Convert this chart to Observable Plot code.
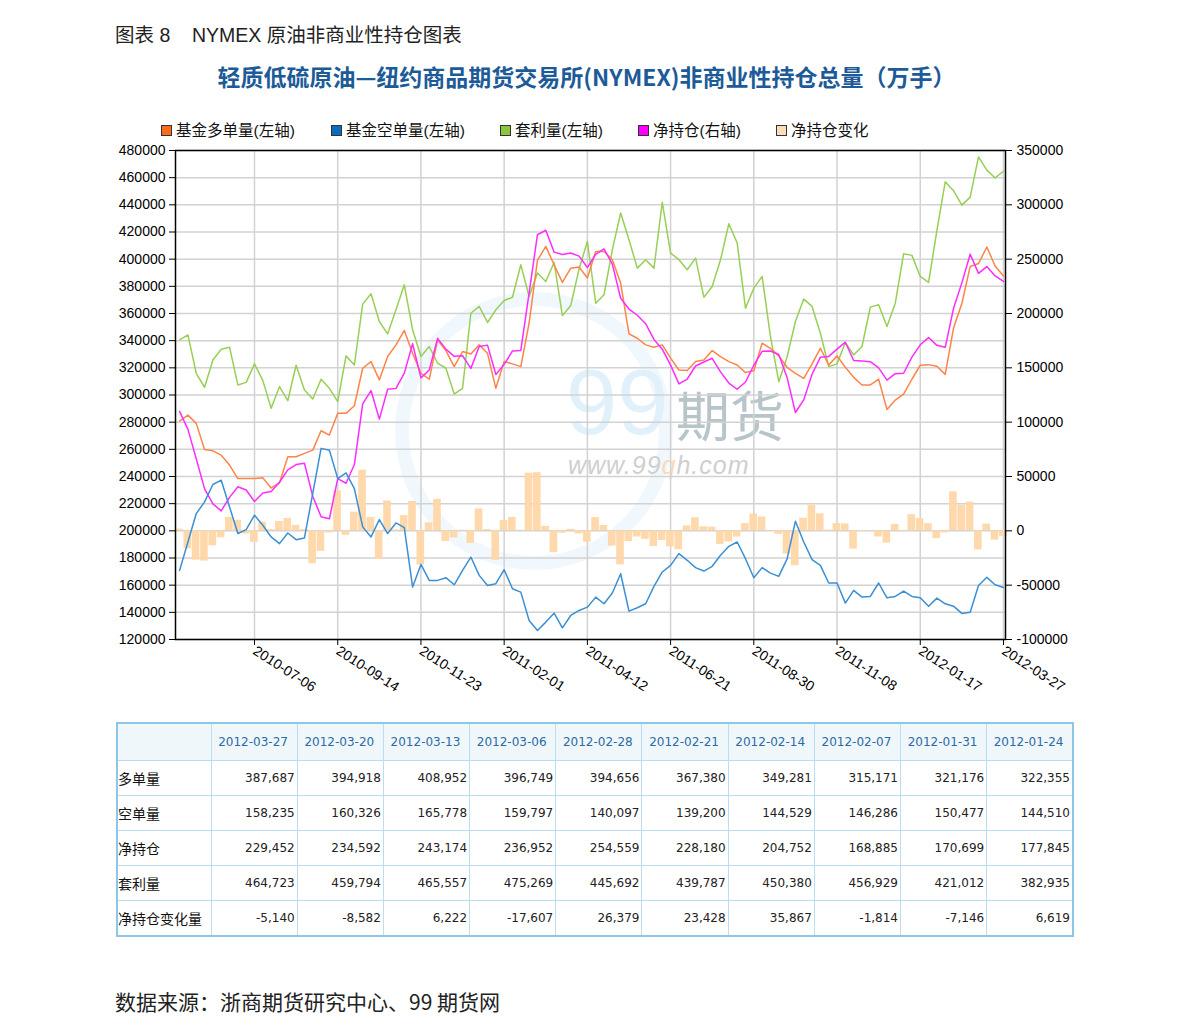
<!DOCTYPE html>
<html><head><meta charset="utf-8">
<script src="https://cdn.jsdelivr.net/npm/d3@7"></script>
<script src="https://cdn.jsdelivr.net/npm/@observablehq/plot@0.6"></script>
<style>
body{margin:0;background:#fff;}
#root{position:relative;width:1191px;height:1033px;overflow:hidden;font-family:"Liberation Sans","Noto Sans CJK SC",sans-serif;color:#000;}
.abs{position:absolute;white-space:nowrap;}
#caption{left:115px;top:23px;font-size:19.5px;line-height:24px;color:#222;font-family:"Liberation Sans","Noto Sans CJK SC",sans-serif;}
#title{left:0;width:1173px;text-align:center;top:61px;font-size:23px;line-height:30px;font-weight:bold;color:#1d5b98;font-family:"Noto Sans CJK SC",sans-serif;}
.leg{top:122px;font-size:15.5px;line-height:18px;font-family:"Liberation Sans","Noto Sans CJK SC",sans-serif;color:#111;}
.leg i{display:inline-block;width:9px;height:9px;border:1px solid #333;margin-right:4px;vertical-align:0px;}
#chart{left:0;top:140px;}
#wm{left:0;top:0;width:1191px;height:600px;pointer-events:none;}
#tbl{left:116px;top:722px;}
table{border-collapse:collapse;table-layout:fixed;width:958px;border:2px solid #8cc6e8;font-family:"DejaVu Sans",Verdana,sans-serif;font-size:12px;}
td,th{border:1px solid #b9ddf1;padding:0 2px 0 0;}
th{height:36px;background:#f0f7fb;color:#2b6aa6;font-weight:normal;text-align:center;}
td{height:34px;text-align:right;color:#222;}
td.lab{text-align:left;font-family:"Noto Sans CJK SC",sans-serif;font-size:14px;color:#111;padding-left:0;}
#source{left:115px;top:988px;font-size:21px;line-height:26px;color:#222;font-family:"Noto Sans CJK SC",serif;}
</style></head>
<body><div id="root">
<div id="caption" class="abs">图表 8&nbsp;&nbsp;&nbsp;&nbsp;NYMEX 原油非商业性持仓图表</div>
<div id="title" class="abs">轻质低硫原油—纽约商品期货交易所(NYMEX)非商业性持仓总量（万手）</div>
<div id="legend"></div>
<div id="wm" class="abs">
  <div class="abs" style="left:395px;top:292px;width:250px;height:250px;border-radius:50%;border:14px solid #f1f8fd;"></div>
  <div class="abs" style="left:566px;top:352px;font-size:92px;line-height:100px;color:#e1f1fb;font-family:'Liberation Sans',sans-serif;">99</div>
  <div class="abs" style="left:676px;top:382px;font-size:54px;line-height:64px;color:#b7c4c9;font-family:'Noto Sans CJK SC',sans-serif;">期货</div>
  <div class="abs" style="left:568px;top:450px;font-size:25px;line-height:30px;color:#cfcfcf;font-style:italic;font-family:'Liberation Sans',sans-serif;letter-spacing:1px;">www.99<span style="color:#fbd8b8">q</span>h.com</div>
</div>
<div id="chart" class="abs"></div>
<div id="tbl" class="abs"></div>
<div id="source" class="abs">数据来源：浙商期货研究中心、99 期货网</div>
</div>
<script>
// ---- data (weekly) ----
const dates = [
"2010-05-04","2010-05-11","2010-05-18","2010-05-25","2010-06-01","2010-06-08","2010-06-15","2010-06-22","2010-06-29","2010-07-06",
"2010-07-13","2010-07-20","2010-07-27","2010-08-03","2010-08-10","2010-08-17","2010-08-24","2010-08-31","2010-09-07","2010-09-14",
"2010-09-21","2010-09-28","2010-10-05","2010-10-12","2010-10-19","2010-10-26","2010-11-02","2010-11-09","2010-11-16","2010-11-23",
"2010-11-30","2010-12-07","2010-12-14","2010-12-21","2010-12-28","2011-01-04","2011-01-11","2011-01-18","2011-01-25","2011-02-01",
"2011-02-08","2011-02-15","2011-02-22","2011-03-01","2011-03-08","2011-03-15","2011-03-22","2011-03-29","2011-04-05","2011-04-12",
"2011-04-19","2011-04-26","2011-05-03","2011-05-10","2011-05-17","2011-05-24","2011-05-31","2011-06-07","2011-06-14","2011-06-21",
"2011-06-28","2011-07-05","2011-07-12","2011-07-19","2011-07-26","2011-08-02","2011-08-09","2011-08-16","2011-08-23","2011-08-30",
"2011-09-06","2011-09-13","2011-09-20","2011-09-27","2011-10-04","2011-10-11","2011-10-18","2011-10-25","2011-11-01","2011-11-08",
"2011-11-15","2011-11-22","2011-11-29","2011-12-06","2011-12-13","2011-12-20","2011-12-27","2012-01-03","2012-01-10","2012-01-17",
"2012-01-24","2012-01-31","2012-02-07","2012-02-14","2012-02-21","2012-02-28","2012-03-06","2012-03-13","2012-03-20","2012-03-27"];

const longPos = [ // 基金多单量 (left axis)
280800,285200,279100,259900,258900,255700,248400,238500,238500,238500,
239000,231600,235300,254500,254500,257000,259400,273700,270500,286500,
286500,292100,319700,324600,311100,328300,336900,347500,330700,316000,
311600,340600,332700,320900,332000,330200,336900,330700,304900,324600,
322900,320900,353000,399100,409400,395900,382900,393400,394200,386100,
405700,405700,399600,382400,345000,341800,336900,335200,336900,327100,
318400,318000,324600,325800,332700,328300,324600,322100,316500,317900,
338100,334400,328800,320400,316000,312300,322900,334400,322100,328800,
320400,313000,307400,307400,311600,289400,296300,300700,311600,321900,
322355,321176,315171,349281,367380,394656,396749,408952,394918,387687];

const shortPos = [ // 基金空单量 (left axis)
170900,191800,212700,221300,234100,237300,217600,198000,200900,211500,
204100,195500,190600,198400,193500,194800,227500,260700,259400,238500,
242700,231100,202900,195500,208300,198000,205800,202400,158600,175300,
163500,163500,165500,160300,170900,180700,167200,159800,161100,171400,
157400,154900,134000,126600,132800,139400,128600,137700,141400,143800,
151200,146300,154200,168400,140900,143400,146300,159100,169700,174600,
183200,178300,172900,170400,173900,182000,188600,191800,179500,165500,
172900,168900,166500,179400,207100,191800,178800,174600,161600,161600,
146800,156200,151200,151700,161600,150700,151700,155700,151700,150700,
144510,150477,146286,144529,139200,140097,159797,165778,160326,158235];

const spreadPos = [ // 套利量 (left axis)
340600,344300,316000,305700,325800,333700,335200,307400,309300,322900,
310600,290200,306100,295800,321900,303700,297100,311600,304900,295100,
328800,322100,366900,374500,354100,345000,362700,381100,348000,328300,
335700,323400,319700,300700,304900,360200,365200,353400,362700,369600,
372000,395900,372500,389800,383600,397600,358500,365900,392700,413100,
367600,373800,407000,434000,414300,393400,399600,393400,441900,404500,
399600,392200,400800,372000,379900,399600,426100,411900,363900,378700,
387300,343000,309800,328000,354100,370600,365200,345500,320900,322900,
338600,329500,335700,364700,366400,350400,367600,404000,402800,387300,
382935,421012,456929,450380,439787,445692,475269,465557,459794,464723];

const netPos = [ // 净持仓 (right axis)
109900,93400,66400,38600,24800,18400,30800,40500,37600,27000,
34900,36100,44700,56100,61000,62200,31900,13000,11100,48000,
43800,61000,116800,129100,102800,130300,131100,145100,172100,140700,
148100,177100,167200,160600,161100,149500,169700,170900,143800,153200,
165500,166000,219000,272500,276600,256500,254300,255700,252800,242300,
254500,259400,245400,214000,204100,198400,190600,176100,167200,152500,
135200,139700,151700,155400,158800,146300,136000,130300,137000,152400,
165200,165500,162300,141000,108900,120500,144100,159800,160500,167200,
173600,156800,156200,155700,150000,138700,144600,145000,159900,171200,
177845,170699,168885,204752,228180,254559,236952,243174,234592,229452];

const netChange = [ // 净持仓变化 (right axis, bars)
1500,-16500,-27000,-27800,-13800,-6400,12400,9700,-2900,-10600,
7900,1200,8600,11400,4900,1200,-30300,-18900,-1900,36900,
-4200,17200,55800,12300,-26300,27500,800,14000,27000,-31400,
7400,29000,-9900,-6600,500,-11600,20200,1200,-27100,9400,
12300,500,53000,53500,4100,-20100,-2200,1400,-2900,-10500,
12200,4900,-14000,-31400,-9900,-5700,-7800,-14500,-8900,-14700,
-17300,4500,12000,3700,3400,-12500,-10300,-5700,6700,15400,
12800,300,-3200,-21300,-32100,11600,23600,15700,700,6700,
6400,-16800,-600,-500,-5700,-11300,5900,400,14900,11300,
6619,-7146,-1814,35867,23428,26379,-17607,6222,-8582,-5140];

const tickDates = ["2010-07-06","2010-09-14","2010-11-23","2011-02-01","2011-04-12","2011-06-21","2011-08-30","2011-11-08","2012-01-17","2012-03-27"];
const leftTicks = [120000,140000,160000,180000,200000,220000,240000,260000,280000,300000,320000,340000,360000,380000,400000,420000,440000,460000,480000];
const rightTicks = [-100000,-50000,0,50000,100000,150000,200000,250000,300000,350000];
const xDomain = ["2010-04-30T13:00:00Z","2012-03-28T17:00:00Z"];

const seriesNames = ["基金多单量(左轴)","基金空单量(左轴)","套利量(左轴)","净持仓(右轴)","净持仓变化"];
const seriesColors = ["#ff8448","#3b8fd3","#98cf55","#ff2cff","#ffd7a8"];
const legendSwatch = ["#ff6a1f","#0d6dbd","#8cc63f","#ff00ff","#ffdcb5"];
const legendLeft = [161,331,500,638,776];

const tableRowNames = ["多单量","空单量","净持仓","套利量","净持仓变化量"];

// ---- helpers: map right-axis values onto the left scale ----
const L0 = leftTicks[0], L1 = leftTicks[leftTicks.length-1];
const R0 = rightTicks[0], R1 = rightTicks[rightTicks.length-1];
const toL = r => L0 + (r - R0) * (L1 - L0) / (R1 - R0);
const fromL = v => Math.round(R0 + (v - L0) * (R1 - R0) / (L1 - L0));

const parse = d3.utcParse("%Y-%m-%d");
const data = dates.map((d, i) => ({
  date: parse(d), long: longPos[i], short: shortPos[i], spread: spreadPos[i],
  net: netPos[i], change: netChange[i]
}));

// ---- legend ----
const legend = document.getElementById("legend");
seriesNames.forEach((n, i) => {
  const el = document.createElement("div");
  el.className = "abs leg";
  el.style.left = legendLeft[i] + "px";
  el.innerHTML = `<i style="background:${legendSwatch[i]}"></i>${n}`;
  legend.appendChild(el);
});

// ---- chart ----
const chart = Plot.plot({
  width: 1191, height: 570,
  marginLeft: 175, marginRight: 186, marginTop: 10, marginBottom: 71,
  style: {background: "transparent", fontFamily: "'Liberation Sans', Arial, sans-serif", fontSize: "14px", color: "#000", overflow: "visible"},
  x: {type: "utc", domain: xDomain.map(s => new Date(s)), label: null},
  y: {domain: [L0, L1], label: null},
  marks: [
    Plot.ruleY(leftTicks, {stroke: "#d2d2d2", strokeWidth: 1.5}),
    Plot.ruleX(tickDates.map(parse), {stroke: "#d2d2d2", strokeWidth: 1.5}),
    Plot.rect(data, {
      x1: d => d3.utcHour.offset(d.date, -80), x2: d => d3.utcHour.offset(d.date, 74),
      y1: () => toL(0), y2: d => toL(d.change), fill: seriesColors[4], fillOpacity: 0.95
    }),
    Plot.line(data, {x: "date", y: "spread", stroke: seriesColors[2], strokeWidth: 1.5}),
    Plot.line(data, {x: "date", y: "long", stroke: seriesColors[0], strokeWidth: 1.5}),
    Plot.line(data, {x: "date", y: d => toL(d.net), stroke: seriesColors[3], strokeWidth: 1.5}),
    Plot.line(data, {x: "date", y: "short", stroke: seriesColors[1], strokeWidth: 1.5}),
    Plot.frame({stroke: "#000", strokeWidth: 1.5}),
    Plot.axisY(leftTicks, {anchor: "left", tickSize: 6, tickPadding: 4, tickFormat: d => String(d), fontSize: 14}),
    Plot.axisY(rightTicks.map(toL), {anchor: "right", tickSize: 6, tickPadding: 5, tickFormat: v => String(fromL(v)), fontSize: 14}),
    Plot.axisX(tickDates.map(parse), {anchor: "bottom", tickSize: 6, tickPadding: 4, tickRotate: 33, fontSize: 14, tickFormat: d3.utcFormat("%Y-%m-%d")})
  ]
});
document.getElementById("chart").appendChild(chart);

// ---- table (latest 10 weeks, newest first) ----
const n = dates.length;
const idx = d3.range(n - 1, n - 11, -1);
const cols = [longPos, shortPos, netPos, spreadPos, netChange];
let html = '<table><colgroup><col style="width:94px">' + idx.map(() => '<col>').join("") + '</colgroup>';
html += '<tr><th></th>' + idx.map(i => `<th>${dates[i]}</th>`).join("") + '</tr>';
tableRowNames.forEach((name, r) => {
  html += `<tr><td class="lab">${name}</td>` + idx.map(i => `<td>${cols[r][i].toLocaleString("en-US")}</td>`).join("") + '</tr>';
});
html += '</table>';
document.getElementById("tbl").innerHTML = html;
</script>
</body></html>
